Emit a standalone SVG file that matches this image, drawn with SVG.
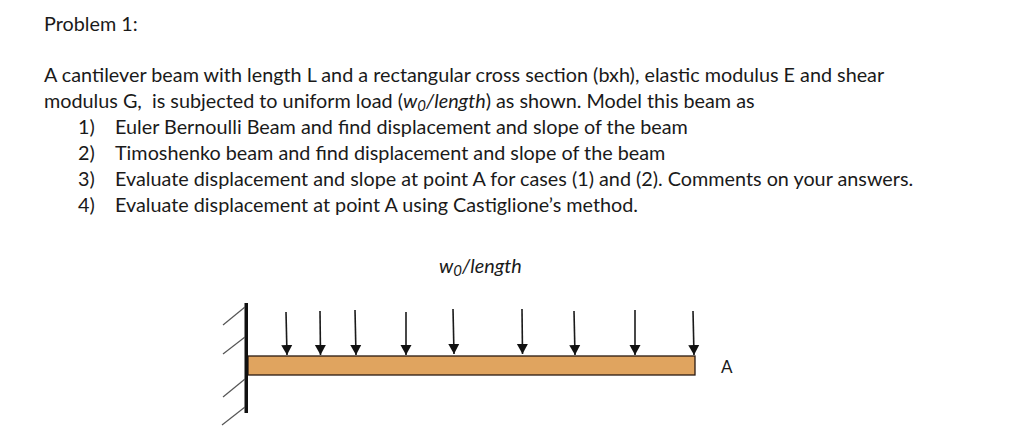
<svg xmlns="http://www.w3.org/2000/svg" width="1024" height="446" viewBox="0 0 1024 446">
<defs><marker id="a" markerWidth="12" markerHeight="12" refX="10" refY="6" orient="auto" markerUnits="userSpaceOnUse"><path d="M0 .5L10 6L0 11.500Z" fill="#111"/></marker></defs>
<style>text{font-family:Lato,"Open Sans",sans-serif;font-size:19.800px;fill:#1a1a1a;white-space:pre}.i{font-style:italic}.s{font-size:15px}.c line{stroke:#1a1a1a;stroke-width:1.6}.h line{stroke:#555;stroke-width:1.2}</style>
<rect width="1024" height="446" fill="#fff"/>
<text x="44" y="31">Problem 1:</text>
<text x="44" y="82">A cantilever beam with length L and a rectangular cross section (bxh), elastic modulus E and shear</text>
<text x="44" y="108">modulus G,  is subjected to uniform load (<tspan class="i">w<tspan class="s" dy="3">0</tspan><tspan dy="-3">/length</tspan></tspan>) as shown. Model this beam as</text>
<text x="78" y="134">1)</text><text x="115" y="134">Euler Bernoulli Beam and find displacement and slope of the beam</text>
<text x="78" y="160">2)</text><text x="115" y="160">Timoshenko beam and find displacement and slope of the beam</text>
<text x="78" y="186">3)</text><text x="115" y="186">Evaluate displacement and slope at point A for cases (1) and (2). Comments on your answers.</text>
<text x="78" y="212">4)</text><text x="115" y="212">Evaluate displacement at point A using Castiglione’s method.</text>
<text x="439" y="273" class="i">w<tspan class="s" dy="3">0</tspan><tspan dy="-3">/length</tspan></text>
<text x="721" y="373" style="font-size:17px">A</text>
<g id="beam"><rect x="248" y="356" width="447" height="19" fill="#e0a45f" stroke="#2a1a10" stroke-width="1.3"/></g>
<g id="wall"><rect x="244.500" y="303" width="3.500" height="110" fill="#111"/></g>
<g class="h"><line x1="245" y1="307" x2="223" y2="325"/><line x1="245" y1="337" x2="223" y2="354"/><line x1="245" y1="379" x2="223" y2="397"/><line x1="245" y1="407" x2="222" y2="425"/></g>
<g id="connectors" class="c">
<line x1="286" y1="312" x2="287" y2="355" marker-end="url(#a)"/><line x1="320" y1="311" x2="320.500" y2="355" marker-end="url(#a)"/><line x1="355" y1="310" x2="356" y2="355" marker-end="url(#a)"/><line x1="406" y1="312" x2="406" y2="355" marker-end="url(#a)"/><line x1="453" y1="309" x2="454" y2="354" marker-end="url(#a)"/><line x1="522" y1="309" x2="522.500" y2="354" marker-end="url(#a)"/><line x1="574" y1="311" x2="575" y2="355" marker-end="url(#a)"/><line x1="635" y1="310" x2="635" y2="355" marker-end="url(#a)"/><line x1="693" y1="311" x2="694" y2="355" marker-end="url(#a)"/>
</g>
</svg>
